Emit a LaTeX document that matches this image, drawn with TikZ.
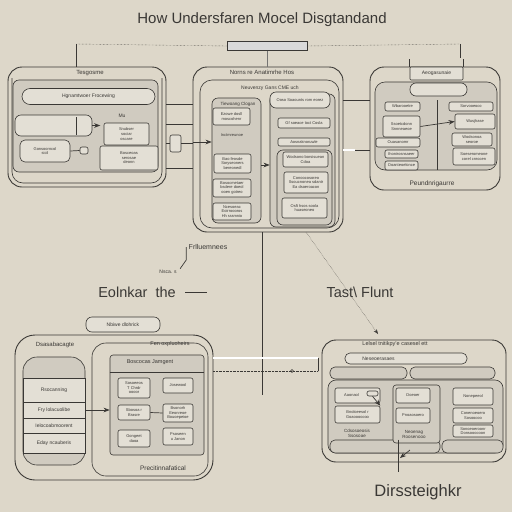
\documentclass[tikz,border=0pt]{standalone}
\usepackage{fontspec}
\setmainfont{Liberation Sans}
\usetikzlibrary{arrows.meta, positioning}
\definecolor{paper}{HTML}{DDD7C9}
\definecolor{ink}{HTML}{3A3835}
\definecolor{panelc}{HTML}{D0CBC0}
\definecolor{cellc}{HTML}{E3DFD5}
\tikzset{
  frame/.style={draw=ink, line width=0.9pt, rounded corners=14pt, inner sep=0pt},
  panel/.style={draw=ink, line width=0.6pt, rounded corners=6pt, fill=panelc, inner sep=0pt},
  cell/.style={draw=ink, line width=0.6pt, rounded corners=2pt, fill=cellc, inner sep=0.5pt,
    font=\fontsize{4}{4.6}\selectfont, align=center, text=ink},
  lbl/.style={font=\fontsize{6}{7}\selectfont, text=ink, align=center},
  big/.style={font=\fontsize{14.5}{16}\selectfont, text=ink},
  link/.style={draw=ink, line width=0.7pt},
}
\begin{document}
\begin{tikzpicture}[x=1pt, y=-1pt]

\useasboundingbox[fill=paper] (0,0) rectangle (512,512);

% Title
\node[font=\fontsize{15}{17}\selectfont, text=ink] (title) at (262,20) {How Undersfaren Mocel Disgtandand};

% Main frames
\node[frame, minimum width=158, minimum height=120] (left) at (87,127) {};
\node[frame, minimum width=150, minimum height=165] (middle) at (268,149.5) {};
\node[frame, minimum width=130, minimum height=123] (right) at (435,128.5) {};
\node[frame, minimum width=198, minimum height=145, rounded corners=20pt] (bleft) at (114,407.5) {};
\node[frame, minimum width=184, minimum height=122] (bright) at (414,401) {};

% Top bar and dotted rail
\node[draw=ink, fill=gray!30, minimum width=80, minimum height=9, inner sep=0pt] (bar) at (267,46) {};
\coordinate (railL) at (76,44);
\coordinate (railR) at (460,44);
\draw[ink, densely dotted] (bar.west) -- (railL);
\draw[ink, densely dotted] (bar.east) -- (railR);
\draw[link] (railL) -- (railL |- left.north);
\draw[link] (railR) -- ++(0,14);
\draw[ink!70, thin] (bar.south) -- (middle.north -| bar.south);

% ---------------- Left block ----------------
\draw[ink, line width=0.6pt, rounded corners=11pt] (12,78) -- (12,183) -- (162,183) -- (162,78);
\node[lbl] (ltitle) at (90,73) {Tesgosme};
\draw[panel] (13,80) rectangle (158,172);
\node[cell, rounded corners=8pt, minimum width=133, minimum height=16, font=\fontsize{5}{6}\selectfont] (lpill) at (88.5,96.5) {Hgnamtwoer Frocewing};
\node[cell, rounded corners=6pt, minimum width=77, minimum height=21] (la) at (53.5,125.5) {};
\node[cell, rounded corners=5pt, minimum width=50, minimum height=22] (lb) at (45,151) {Gonsoorncol\\ sicil};
\node[cell, minimum width=8, minimum height=7] (lpin) at (84,150.5) {};
\draw[link] (76,117) -- (76,135);
\draw[link, -Stealth] (la.east) -- ++(8,0);
\draw[link] (lb.east) -- (lpin.west);
\node[lbl, font=\fontsize{5}{6}\selectfont] (lmu) at (122,116) {Mu};
\node[cell, minimum width=45, minimum height=22] (lc) at (126.5,134) {Snubser\\ sociar\\ oscare};
\node[cell, minimum width=58, minimum height=24] (ld) at (129,158) {Bosceoas\\ serosae\\ deonn};

% Left to middle connectors
\coordinate (y104) at (0,104);
\coordinate (y124) at (0,124);
\coordinate (y168) at (0,168);
\node[cell, minimum width=11, minimum height=17] (lknot) at (175.5,143.5) {};
\draw[link] (left.east |- y104) -- (middle.west |- y104);
\draw[link] (left.east |- y124) -- (middle.west |- y124);
\draw[link] (left.east |- lknot) -- (lknot.west);
\draw[link] (lknot.east) -- (middle.west |- lknot);
\draw[link] (left.east |- y168) -- (middle.west |- y168);

% ---------------- Middle block ----------------
\node[lbl] (mtitle) at (262,72) {Norns re Anatimrhe Hos};
\draw[ink, line width=0.6pt, rounded corners=12pt] (200,80) rectangle (339,228);
\node[lbl, font=\fontsize{5}{6}\selectfont] (msub) at (270,88) {Neuvenzy Gans CME uch};
\node[panel, minimum width=49, minimum height=125] (lcol) at (236.5,160.5) {};
\node[panel, minimum width=65, minimum height=133] (rcol) at (302.5,160.5) {};
\node[lbl, font=\fontsize{4.5}{5}\selectfont] (lctitle) at (238,104) {Tiewoang Clogan};
\node[cell, minimum width=37, minimum height=17] (m1) at (231.5,116.5) {Ezowe dosll\\ moscohenr};
\node[lbl, font=\fontsize{4}{5}\selectfont] (m2) at (232,135) {Inctmreunoe};
\node[cell, minimum width=37, minimum height=19] (m3) at (232.5,163.5) {Bao feosde\\ Soryseoners\\ bereonedl};
\node[cell, minimum width=38, minimum height=18] (m4) at (232,188) {Bosocmetaer\\ bsdere doeol\\ ooen gotreo};
\node[cell, minimum width=38, minimum height=17] (m5) at (232,211.5) {Ncesoeac\\ Eoirroooros\\ Hh sramnio};
\node[cell, rounded corners=6pt, minimum width=60, minimum height=16, text depth=-3pt] (m6) at (300,100) {Ooso Soaounts rom eorez};
\node[cell, minimum width=52, minimum height=10] (m7) at (304,123) {Gf soeace toct Cosla};
\node[cell, minimum width=52, minimum height=8] (m8) at (304,142) {Aosnaknoruwle};
\node[panel, minimum width=55, minimum height=75] (msub2) at (304.5,187.5) {};
\node[cell, minimum width=45, minimum height=15] (m9) at (305.5,159.5) {Wodsono borsisuean\\ Cdoa};
\node[cell, minimum width=44, minimum height=21] (m10) at (306,182.5) {Conoocosoreo\\ Ssoucnonea sdantr\\ Ea dsoeroacon};
\node[cell, minimum width=45, minimum height=20] (m11) at (304.5,208) {Osft hsos soola\\ huaseoneo};
\coordinate (y142) at (0,142);
\coordinate (y165) at (0,165);
\draw[link, -Stealth] (middle.west |- y142) -- (lcol.west |- y142);
\draw[link, -Stealth] (lcol.east |- y165) -- (rcol.west |- y165);

% Middle to right connectors
\coordinate (y100) at (0,100);
\coordinate (y150) at (0,150);
\draw[link] (middle.east |- y100) -- (right.west |- y100);
\draw[link, double, double distance=1.5pt] (middle.east |- y150) -- ++(12,0);
\draw[link] (middle.east |- y150) ++(12,0) -- (right.west |- y150);

% ---------------- Right block ----------------
\node[cell, rounded corners=1pt, minimum width=53, minimum height=13, font=\fontsize{5}{6}\selectfont] (rtab) at (436.5,73.5) {Aeogasunaie};
\draw[link] (rtab.north west) -- ++(0,-8);
\draw[link] (rtab.north east) -- ++(0,-8);
\node[panel, minimum width=122, minimum height=88, rounded corners=10pt] (rpanel) at (436,126) {};
\node[cell, rounded corners=6pt, minimum width=57, minimum height=13] (rpill) at (438.5,89.5) {};
\draw[link] (437,100) -- (437,170);
\node[cell, minimum width=35, minimum height=9] (rl1) at (402.5,106.5) {Wbarooetre};
\node[cell, minimum width=37, minimum height=21] (rl2) at (401.5,126.5) {Ssoetcdonn\\ Snnneaeoe};
\node[cell, minimum width=44, minimum height=9] (rl3) at (398,142.5) {Ouasanomr};
\node[cell, minimum width=33, minimum height=8] (rl4) at (401.5,154) {Ihonirosnsaeer};
\node[cell, minimum width=33, minimum height=9] (rl5) at (401.5,165.5) {Ooanteoelonce};
\node[cell, minimum width=44, minimum height=9] (rr1) at (471,106.5) {Sorvooeoco};
\node[cell, minimum width=40, minimum height=15] (rr2) at (475,121.5) {Wusjhase};
\node[cell, minimum width=40, minimum height=13] (rr3) at (472,139.5) {Wodsonoa\\ seoroe};
\node[cell, minimum width=42, minimum height=17] (rr4) at (474,156.5) {Soeseromeone\\ corel cnrocen};
\draw[link, -Stealth] (rl2.east) -- (rr2.west);
\node[lbl, font=\fontsize{6.5}{7}\selectfont] (rfoot) at (432,184) {Peundnrigaurre};

% ---------------- Annotations in the middle ----------------
\coordinate (spine) at (262,395);
\draw[link] (spine |- middle.south) -- (spine);
\node[lbl, font=\fontsize{7}{8}\selectfont] (fr) at (208,247) {Frlluemnees};
\node[lbl, font=\fontsize{5}{6}\selectfont] (ns) at (168,272) {Nsca. s};
\draw[link] ([xshift=1pt]fr.west) -- ++(0,13) -- ([yshift=-2pt]ns.north east);
\node[big] (eo) at (137,292) {Eolnkar\ \ the};
\draw[link] ([xshift=6pt]eo.east) -- ++(22,0);
\node[big] (tf) at (360,292) {Tast\textbackslash{} Flunt};
\coordinate (dotA) at (306,232);
\coordinate (dotB) at (378,334);
\draw[ink, densely dotted, -Stealth] (dotA) -- (dotB);

% Bottom rails
\coordinate (hA) at (213,358);
\coordinate (hB) at (318,358);
\coordinate (hC) at (213,371);
\coordinate (hD) at (318,371);
\draw[ink!60, double, double distance=1.2pt] (hA) -- (hB);
\draw[ink, densely dotted] (hC) -- (hD);
\draw[link] (hB) -- (hD);
\draw[ink] (292,371) circle (1.5pt);

% ---------------- Bottom left block ----------------
\node[cell, rounded corners=6pt, minimum width=74, minimum height=15, font=\fontsize{5}{6}\selectfont] (bltab) at (123,324.5) {Nbiwe dlohrick};
\node[lbl] (bltitle) at (55,345) {Dsasabacagte};
\draw[ink, line width=0.6pt, rounded corners=14pt] (92,343) rectangle (208,476);
\node[lbl, font=\fontsize{5.5}{6}\selectfont] (blsub) at (170,344) {Fen oxpluoheirs};
\node[panel, rounded corners=14pt, minimum width=62, minimum height=108] (dcol) at (54,411) {};
\node[cell, rounded corners=0pt, minimum width=62, minimum height=24, font=\fontsize{5}{6}\selectfont] (r1) at (54,390) {Rsocanning};
\node[cell, rounded corners=0pt, minimum width=62, minimum height=16, font=\fontsize{5}{6}\selectfont] (r2) at (54,410) {Fry lolacuolibe};
\node[cell, rounded corners=0pt, minimum width=62, minimum height=15, font=\fontsize{5}{6}\selectfont] (r3) at (54,425.5) {Ielocoabmoorent};
\node[cell, rounded corners=0pt, minimum width=62, minimum height=20, font=\fontsize{5}{6}\selectfont] (r4) at (54,443) {Eday ncauberis};
\node[panel, rounded corners=3pt, minimum width=94, minimum height=100] (bpanel) at (157,405) {};
\node[lbl, font=\fontsize{5.5}{6}\selectfont] (bphead) at (150,362) {Boscocas Jamgent};
\draw[link] (bpanel.west |- 0,372) -- (bpanel.east |- 0,372);
\node[cell, minimum width=32, minimum height=20] (b1) at (134,388) {Sosoeeos\\ T Chrdr\\ oooor};
\node[cell, minimum width=30, minimum height=15] (b2) at (178,385.5) {Josewool};
\node[cell, minimum width=32, minimum height=15] (b3) at (134,412.5) {Sbosoa r\\ Brasre};
\node[cell, minimum width=30, minimum height=18] (b4) at (178,413) {Bsonorh\\ Eeonreoe\\ Bouoepeioe};
\node[cell, minimum width=32, minimum height=17] (b5) at (134,438.5) {Gongeet\\ daoa};
\node[cell, minimum width=30, minimum height=17] (b6) at (178,436.5) {Psoseen\\ u Janon};
\draw[link] (b3.east) -- (b4.west);
\draw[link, -Stealth] (r2.east) -- (bpanel.west |- r2);
\node[lbl, font=\fontsize{6.5}{7}\selectfont] (blfoot) at (163,468) {Precitinnafatical};

% ---------------- Bottom right block ----------------
\node[lbl, font=\fontsize{5.5}{6}\selectfont] (brtitle) at (395,344) {Lelsel tnitikpy'e casesel ett};
\node[cell, rounded corners=5pt, minimum width=122, minimum height=11, font=\fontsize{5}{6}\selectfont] (brp1) at (406,358.5) {Neseoerasaes\hspace{55pt}};
\node[panel, rounded corners=5pt, minimum width=77, minimum height=12] (brp2) at (368.5,373) {};
\node[panel, rounded corners=5pt, minimum width=85, minimum height=12] (brp3) at (452.5,373) {};
\node[panel, rounded corners=8pt, minimum width=175, minimum height=73] (brpanel) at (415.5,416.5) {};
\node[panel, rounded corners=5pt, minimum width=110, minimum height=13] (brp4) at (385,446.5) {};
\node[panel, rounded corners=5pt, minimum width=61, minimum height=13] (brp5) at (472.5,446.5) {};
\node[panel, rounded corners=3pt, minimum width=47, minimum height=58] (brmid) at (416.5,414) {};
\node[cell, minimum width=45, minimum height=15] (q1) at (357.5,395.5) {Aaonaol\hspace{12pt}};
\node[cell, minimum width=11, minimum height=5] (q1b) at (372.5,393.5) {};
\node[cell, minimum width=45, minimum height=17] (q2) at (357.5,414.5) {Bnoloeesol r\\ Goaoooocoo};
\node[lbl, font=\fontsize{4.5}{5}\selectfont] (q3) at (357,433) {Cdsosoeosis\\ Ssosoae};
\node[cell, minimum width=34, minimum height=15] (q4) at (413,395.5) {Doeoer};
\node[cell, minimum width=34, minimum height=15] (q5) at (413,415.5) {Pnoaosoero};
\node[lbl, font=\fontsize{4.5}{5}\selectfont] (q6) at (414,434) {Neoenag\\ Roosenooo};
\node[cell, minimum width=40, minimum height=17] (q7) at (473,396.5) {Nonepeeol};
\node[cell, minimum width=40, minimum height=15] (q8) at (473,415.5) {Conenoeoero\\ Sosoocoo};
\node[cell, minimum width=40, minimum height=12] (q9) at (473,431) {Sonoeoeroonr\\ Donsooocoon};
\draw[link, -Stealth] (q1b.south) -- (q2.north east);
\coordinate (brout) at (398,472);
\draw[link] (brout |- brp4.north) -- (brout);
\draw[link, -Stealth] (410,450) -- (400,458);
\node[font=\fontsize{16.5}{18}\selectfont, text=ink] (brfoot) at (418,492) {Dirssteighkr};

\end{tikzpicture}
\end{document}
